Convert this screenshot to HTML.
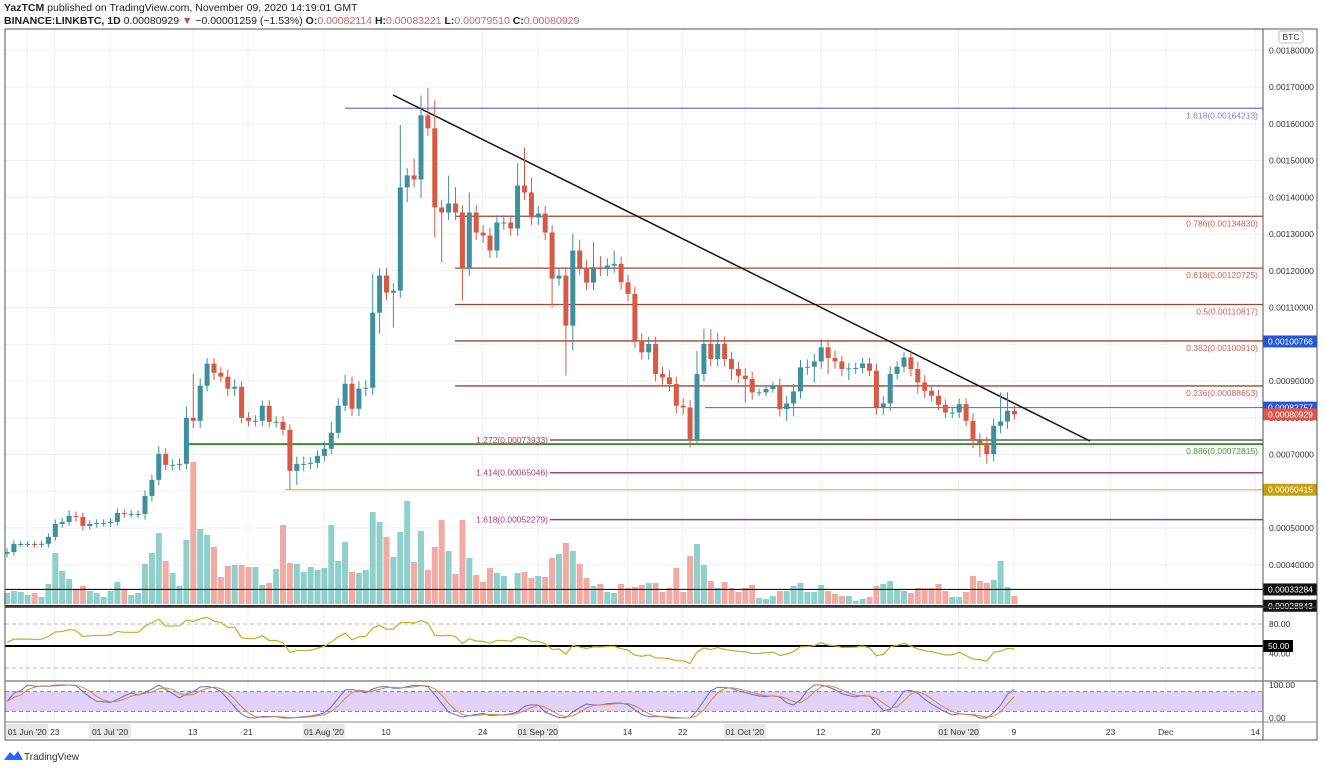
<!DOCTYPE html>
<html><head><meta charset="utf-8"><style>
html,body{margin:0;padding:0;background:#fff;}
svg{display:block;font-family:"Liberation Sans",sans-serif;}
</style></head><body>
<svg id="chart" width="1323" height="768" viewBox="0 0 1323 768" xmlns="http://www.w3.org/2000/svg">
<text x="4" y="11" font-size="10.5" fill="#222"><tspan font-weight="bold">YazTCM</tspan> published on TradingView.com, November 09, 2020 14:19:01 GMT</text>
<text x="4" y="24" font-size="10.5" fill="#222"><tspan font-weight="bold">BINANCE:LINKBTC, 1D</tspan> 0.00080929 <tspan fill="#c0504d">▼</tspan> −0.00001259 (−1.53%) <tspan font-weight="bold">O:</tspan><tspan fill="#e06060">0.00082114</tspan> <tspan font-weight="bold">H:</tspan><tspan fill="#e06060">0.00083221</tspan> <tspan font-weight="bold">L:</tspan><tspan fill="#e06060">0.00079510</tspan> <tspan font-weight="bold">C:</tspan><tspan fill="#e06060">0.00080929</tspan></text>
<g id="grid"></g><g id="vol"></g><g id="lines"></g><g id="candles"></g><g id="rsi"></g><g id="stoch"></g><g id="axes"></g>
<rect x="5" y="29" width="1312" height="711" fill="none" stroke="#555" stroke-width="1"/>
<line x1="1263" y1="29" x2="1263" y2="740" stroke="#555"/>
<line x1="5" y1="607" x2="1317" y2="607" stroke="#333" stroke-width="1.5"/>
<line x1="5" y1="681" x2="1317" y2="681" stroke="#888" stroke-width="1.5"/>
<line x1="5" y1="722" x2="1317" y2="722" stroke="#888"/>
<rect x="1279" y="31" width="24" height="12" fill="#fff" stroke="#bbb" rx="2"/>
<text x="1291" y="40" font-size="8.5" text-anchor="middle" fill="#333">BTC</text>
<g><path d="M4 760 L10 752 L14 756 L18 751 L23 760 Z" fill="#2962ff"/><text x="24" y="760" font-size="10" fill="#333">TradingView</text></g>
</svg>
<script>
// ---- data (prices in satoshi, 1e-8 BTC) ----
const closes=[43480,45660,45660,45660,45500,45700,47570,51110,51650,53290,53020,50560,51110,51380,51380,51650,54110,53830,53830,53830,58740,63100,70180,67180,67180,67460,79990,79180,88710,94710,92260,91170,87900,88440,79990,79180,79180,83260,78900,78900,76720,65550,67460,67460,67730,69640,71550,75900,83260,89260,82450,87900,88170,108600,118690,114050,114600,142670,145940,144850,162290,158750,137220,135850,138310,135850,120600,135850,130400,129590,125500,133130,133130,131500,143210,141300,134490,135580,130400,117870,118690,105060,125500,120870,116780,120950,120500,121410,121870,116870,113700,100980,97790,100070,91900,90990,89170,83260,82800,74180,91900,100070,95990,100070,95990,93260,91440,90540,86890,86890,87810,88710,82360,83890,87170,93710,93890,95330,99160,96260,95330,93260,93430,93530,94790,92800,82800,83890,91900,93890,96420,93260,89610,87350,85990,83530,81440,81440,83720,79180,73730,72820,70100,77810,79000,81900,80929];
const firstOpen=43000;
const wickUp=[10,10,8,8,8,8,10,12,12,15,12,12,10,10,10,10,12,10,10,10,15,15,20,15,15,15,30,120,20,15,15,15,20,20,15,15,15,15,15,15,15,15,20,20,15,15,20,30,20,25,20,20,20,106,20,20,20,170,20,46,54,74,76,20,76,44,20,55,20,20,20,20,20,20,60,104,41,20,20,20,20,20,46,30,20,68,30,20,36,20,20,20,20,20,20,20,20,20,20,20,63,42,40,30,20,20,20,20,20,10,10,10,20,20,20,20,20,20,23,20,20,15,15,15,15,15,20,20,20,15,14,20,20,20,15,15,15,15,15,15,20,20,20,20,79,50,13];
const wickDn=[10,10,8,8,8,8,10,10,10,10,12,12,10,10,10,10,10,10,10,10,15,15,15,15,15,15,15,20,20,15,20,15,20,20,15,15,15,15,15,15,15,51,38,20,15,15,15,15,15,15,20,20,20,20,57,20,95,20,40,20,51,20,82,136,20,20,87,20,20,20,20,20,20,20,20,20,20,20,20,79,20,136,68,20,20,20,20,20,20,20,20,20,20,20,20,20,20,20,20,23,14,20,20,20,20,30,20,64,20,10,10,10,20,32,35,20,20,43,20,44,20,20,30,15,15,15,20,20,20,15,15,20,30,20,15,15,15,15,15,15,20,35,26,20,20,20,14];
const volumes=[11,13,12,9,11,7,20,51,33,25,14,18,13,11,7,13,22,15,9,11,40,51,71,43,31,18,64,142,75,69,57,27,38,39,39,37,37,19,21,35,79,41,40,32,37,34,36,79,43,62,32,31,34,92,82,67,47,72,103,42,73,34,57,84,53,30,84,46,29,22,36,31,28,14,31,32,26,28,27,46,50,61,53,40,26,18,20,12,11,20,16,17,19,21,21,12,16,36,12,48,60,39,23,16,22,16,12,16,19,6,5,8,13,13,18,21,12,12,19,13,10,8,8,3,5,7,18,20,23,14,13,11,16,16,16,20,13,7,7,12,28,23,21,24,43,17,8];
const priceTicks=[40000,50000,60000,70000,80000,90000,100000,110000,120000,130000,140000,150000,160000,170000,180000];
const dateLabels=["01 Jun '20","23","01 Jul '20","13","21","01 Aug '20","10","24","01 Sep '20","14","22","01 Oct '20","12","20","01 Nov '20","9","23","Dec","14"];
const dateDays=[-12,-8,0,12,20,31,40,54,62,75,83,92,103,111,123,131,145,153,166]; // days from Jul 1
const dateBoxed=[1,0,1,0,0,1,0,0,1,0,0,1,0,0,1,0,0,0,0];
const fibLevels=[164213,134830,120725,110817,100910,88653,72815];
const fibNames=["1.618","0.786","0.618","0.5","0.382","0.236","0.886"];
const fibColors=["#7b6fd0","#a0452e","#a0452e","#a0452e","#a0452e","#a0452e","#3f8f2f"];
const fibLabelColors=["#8a7fd8","#d0605a","#d0605a","#d0605a","#d0605a","#d0605a","#4a9a3a"];
const fibStart=[345,455,455,455,455,455,185];
const extLevels=[73933,65046,52279];
const extNames=["1.272","1.414","1.618"];
const extColors=["#6b5a70","#9a4a80","#8a4a70"];

// ---- scales ----
const x0=7, dx=6.9;
const xi=i=>x0+i*dx;
const xd=d=>110+d*dx;
const py=s=>50.25+(180000-s)/272.1;
const ry=r=>646-(r-50)*0.733;
const sy=v=>718-v*0.33;
const NS="http://www.w3.org/2000/svg";
function mk(tag,attrs,parent){const e=document.createElementNS(NS,tag);for(const k in attrs)e.setAttribute(k,attrs[k]);parent.appendChild(e);return e;}
const fmt=s=>(s/1e8).toFixed(8);
const G=id=>document.getElementById(id);

// grid
const grid=G('grid');
priceTicks.forEach(t=>{const l=mk('line',{x1:5,x2:1263,y1:py(t),y2:py(t),stroke:'#eef1f4'},grid);

});
dateDays.forEach(d=>{const l=mk('line',{x1:xd(d),x2:xd(d),y1:29,y2:722,stroke:'#eef1f4'},grid);

});
[[ry(80),'4,3','#bbb'],[ry(20),'4,3','#bbb']].forEach(a=>{const l=mk('line',{x1:5,x2:1263,y1:a[0],y2:a[0],stroke:a[2],'stroke-dasharray':a[1]},grid);

});
const band=mk('rect',{x:5,y:sy(80),width:1258,height:sy(20)-sy(80),fill:'#e3d2f7'},grid);


[80,20].forEach(v=>{const l=mk('line',{x1:5,x2:1263,y1:sy(v),y2:sy(v),stroke:'#8a7aa0','stroke-dasharray':'4,3'},grid);

});

const opens=closes.map((c,i)=>i===0?firstOpen:closes[i-1]);

// volume
const vol=G('vol');
volumes.forEach((v,i)=>{const up=closes[i]>=opens[i];
const r=mk('rect',{x:xi(i)-3,y:604-v,width:6,height:v,fill:up?'#8fd0cb':'#f2aba4'},vol);

});

// horizontal levels
const lines=G('lines');
fibLevels.forEach((s,k)=>{const l=mk('line',{x1:fibStart[k],x2:1263,y1:py(s),y2:py(s),stroke:fibColors[k],'stroke-width':k===6?2:1.3},lines);


const t=mk('text',{x:1258,y:py(s)+10,'font-size':8.5,'text-anchor':'end',fill:fibLabelColors[k]},lines);
t.textContent=fibNames[k]+'('+fmt(s)+')';

});
extLevels.forEach((s,k)=>{const l=mk('line',{x1:550,x2:1263,y1:py(s),y2:py(s),stroke:extColors[k],'stroke-width':1.5},lines);


const t=mk('text',{x:548,y:py(s)+3,'font-size':8.5,'text-anchor':'end',fill:'#b03a70'},lines);
t.textContent=extNames[k]+'('+fmt(s)+')';

});
const hl=[[82757,705,'#5060d0',1],[60415,285,'#c8b040',1],[33284,5,'#111',1.2],[28843,5,'#111',1.2]];
hl.forEach(a=>{const l=mk('line',{x1:a[1],x2:1263,y1:py(a[0]),y2:py(a[0]),stroke:a[2],'stroke-width':a[3]},lines);

});
const tl=mk('line',{x1:393,y1:95,x2:1090,y2:441,stroke:'#111','stroke-width':1.5},lines);



// candles
const cg=G('candles');
closes.forEach((c,i)=>{const o=opens[i],up=c>=o,col=up?'#3f8f9d':'#d65a45';
const hi=Math.max(o,c)+wickUp[i]*100,lo=Math.min(o,c)-wickDn[i]*100;
const w=mk('line',{x1:xi(i),x2:xi(i),y1:py(hi),y2:py(lo),stroke:col,'stroke-width':1},cg);


const yt=py(Math.max(o,c)),yb=py(Math.min(o,c));
const b=mk('rect',{x:xi(i)-2.5,y:yt,width:5,height:Math.max(1,yb-yt),fill:col},cg);

});

// RSI (14, Wilder) computed from closes, seeded neutral
const rsi=[55];let ag=1000,al=800;
for(let i=1;i<closes.length;i++){const ch=closes[i]-closes[i-1];const g=Math.max(ch,0),l=Math.max(-ch,0);
ag=(ag*13+g)/14;al=(al*13+l)/14;rsi.push(al===0?100:100-100/(1+ag/al));}
const rl=mk('line',{x1:5,x2:1263,y1:ry(50),y2:ry(50),stroke:'#000','stroke-width':2},G('rsi'));


const rp=mk('polyline',{points:rsi.map((r,i)=>xi(i)+','+ry(r)).join(' '),fill:'none',stroke:'#c9ad24','stroke-width':1.2},G('rsi'));



// Stoch RSI
const st=rsi.map((r,i)=>{const w=rsi.slice(Math.max(0,i-13),i+1);const mn=Math.min(...w),mx=Math.max(...w);return mx===mn?50:(r-mn)/(mx-mn)*100;});
const sma=(a,n)=>a.map((v,i)=>{const w=a.slice(Math.max(0,i-n+1),i+1);return w.reduce((p,q)=>p+q,0)/w.length;});
const K=sma(st,3),D=sma(K,3);
const kp=mk('polyline',{points:K.map((v,i)=>xi(i)+','+sy(v)).join(' '),fill:'none',stroke:'#5d6fe0','stroke-width':1},G('stoch'));


const dp=mk('polyline',{points:D.map((v,i)=>xi(i)+','+sy(v)).join(' '),fill:'none',stroke:'#e0873a','stroke-width':1},G('stoch'));



// axes
const ax=G('axes');
priceTicks.forEach(t=>{const tx=mk('text',{x:1269,y:py(t)+3,'font-size':8.5,fill:'#333'},ax);tx.textContent=fmt(t);

});
const tags=[[100766,'#2656d8'],[82757,'#2656d8'],[80929,'#e0564a'],[60415,'#c8a010'],[33284,'#111'],[28843,'#111']];
tags.forEach(a=>{const y=py(a[0]);const r=mk('rect',{x:1263,y:y-6,width:54,height:12,fill:a[1]},ax);


const t=mk('text',{x:1268,y:y+3,'font-size':8.5,fill:'#fff'},ax);t.textContent=fmt(a[0]);

});
[[80,'80.00'],[40,'40.00']].forEach(a=>{const t=mk('text',{x:1269,y:ry(a[0])+3,'font-size':8.5,fill:'#333'},ax);t.textContent=a[1];

});
const r50=mk('rect',{x:1263,y:ry(50)-6,width:30,height:12,fill:'#000'},ax);


const t50=mk('text',{x:1268,y:ry(50)+3,'font-size':8.5,fill:'#fff'},ax);t50.textContent='50.00';


[[100,'100.00'],[0,'0.00']].forEach(a=>{const t=mk('text',{x:1269,y:sy(a[0])+3,'font-size':8.5,fill:'#333'},ax);t.textContent=a[1];

});
dateLabels.forEach((s,k)=>{const x=xd(dateDays[k]);
if(dateBoxed[k]){const r=mk('rect',{x:x-21,y:724,width:42,height:14,fill:'#e8e8e8'},ax);

}
const t=mk('text',{x:x,y:735,'font-size':8.5,'text-anchor':'middle',fill:'#333'},ax);t.textContent=s;

});
</script>
</body></html>
